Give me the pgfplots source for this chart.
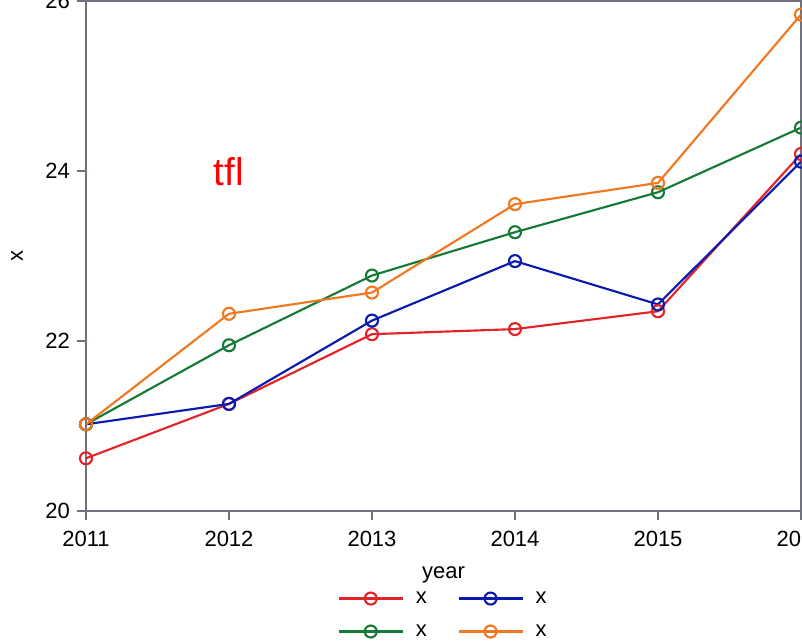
\documentclass[border=0pt]{standalone}
\usepackage{fontspec}
\setmainfont{Liberation Sans}
\usepackage{pgfplots}
\pgfplotsset{compat=1.18}
\definecolor{cred}{RGB}{226,36,40}
\definecolor{cblue}{RGB}{10,26,174}
\definecolor{cgreen}{RGB}{21,122,53}
\definecolor{corange}{RGB}{240,120,32}
\definecolor{axisgray}{RGB}{110,115,125}
\begin{document}
\begin{tikzpicture}
\path[use as bounding box, clip] (-64.5pt,-97.5pt) rectangle (537pt,383.25pt);
\begin{axis}[
  at={(0pt,0pt)}, anchor=south west,
  scale only axis, width=536.25pt, height=382.5pt,
  xmin=2011, xmax=2016, ymin=20, ymax=26,
  xtick={2011,2012,2013,2014,2015,2016}, ytick={20,22,24,26},
  axis line style={draw=axisgray, line width=1.1pt},
  xtick style={draw=axisgray, line width=1pt},
  ytick style={draw=axisgray, line width=1pt},
  xtick align=outside, ytick align=outside, major tick length=7pt,
  xtick pos=bottom, ytick pos=left,
  x tick label style={/pgf/number format/1000 sep=, yshift=-4.5pt},
  y tick label style={xshift=-1.5pt},
  tick label style={font=\fontsize{16.5}{19}\selectfont},
  /pgf/number format/assume math mode=true,
  xlabel={year}, ylabel={x},
  label style={font=\fontsize{16.5}{19}\selectfont},
  xlabel style={at={(axis description cs:0.5,-0.1314)}, anchor=base},
  ylabel style={at={(axis description cs:-0.0965,0.5)}, anchor=center},
  legend columns=2,
  legend style={draw=none, fill=none, at={(axis description cs:0.5,-0.204)}, anchor=center,
    font=\fontsize{16.5}{19}\selectfont, row sep=10.5pt,
    /tikz/every odd column/.append style={column sep=7pt},
    /tikz/every even column/.append style={column sep=21pt}},
  legend image code/.code={\draw[mark repeat=2,mark phase=2] plot coordinates {(0pt,0pt) (24pt,0pt) (48pt,0pt)};},
  every axis plot/.append style={line width=1.6pt, mark=o, mark size=4.5pt, mark options={solid}},
]
\addplot[color=cred] coordinates {(2011,20.62) (2012,21.26) (2013,22.08) (2014,22.14) (2015,22.35) (2016,24.20)};
\addlegendentry{x}
\addplot[color=cblue] coordinates {(2011,21.02) (2012,21.26) (2013,22.24) (2014,22.94) (2015,22.43) (2016,24.11)};
\addlegendentry{x}
\addplot[color=cgreen] coordinates {(2011,21.02) (2012,21.95) (2013,22.77) (2014,23.28) (2015,23.75) (2016,24.51)};
\addlegendentry{x}
\addplot[color=corange] coordinates {(2011,21.02) (2012,22.32) (2013,22.57) (2014,23.61) (2015,23.86) (2016,25.84)};
\addlegendentry{x}
\node[text=red, font=\fontsize{29}{32}\selectfont, anchor=base] at (axis cs:2012,23.83) {tfl};
\end{axis}
\end{tikzpicture}
\end{document}
